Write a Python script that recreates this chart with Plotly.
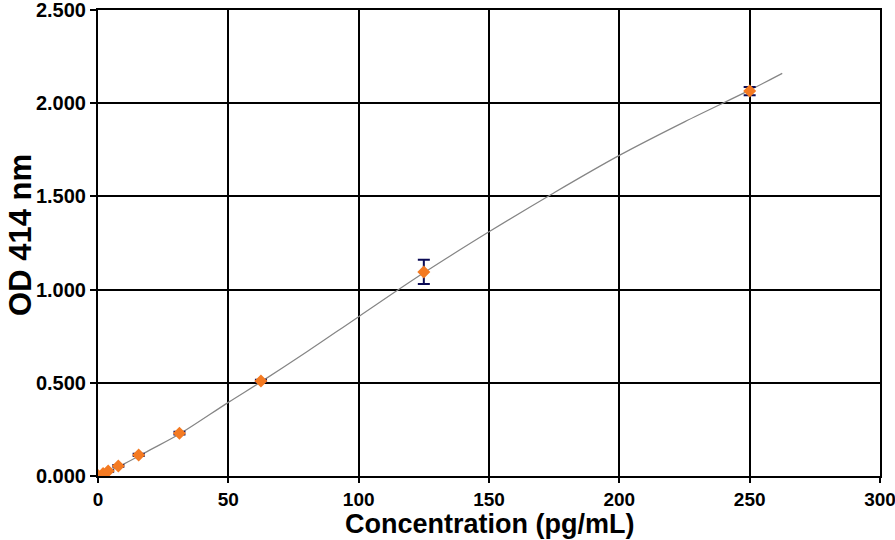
import plotly.graph_objects as go

# Standards (pg/mL) and mean OD 414 nm
conc = [0, 1.95, 3.9, 7.8, 15.6, 31.25, 62.5, 125, 250]
od = [0.003, 0.013, 0.027, 0.054, 0.113, 0.230, 0.510, 1.095, 2.065]
od_err = [0.002, 0.003, 0.004, 0.005, 0.006, 0.008, 0.006, 0.065, 0.022]

# Fitted curve
fit_x = [0, 10, 20, 31.25, 50, 62.5, 80, 100, 125, 150, 175, 200, 225, 250, 262.5]
fit_y = [0.0, 0.065, 0.14, 0.225, 0.395, 0.505, 0.665, 0.855, 1.09, 1.31, 1.52, 1.72, 1.90, 2.07, 2.16]

x_ticks = [0, 50, 100, 150, 200, 250, 300]
y_ticks = [0, 0.5, 1.0, 1.5, 2.0, 2.5]
y_tick_text = ["0.000", "0.500", "1.000", "1.500", "2.000", "2.500"]
x_title = "Concentration (pg/mL)"
y_title = "OD 414 nm"

fig = go.Figure()
fig.add_trace(go.Scatter(
    x=fit_x, y=fit_y, mode="lines",
    line=dict(color="#858585", width=1.2, shape="spline"),
    hoverinfo="skip", showlegend=False))
fig.add_trace(go.Scatter(
    x=conc, y=od, mode="markers",
    marker=dict(symbol="diamond", size=10, color="#F47A22"),
    error_y=dict(type="data", array=od_err, visible=True,
                 color="#0b0b55", thickness=2, width=6),
    showlegend=False))

font_family = "Liberation Sans, Arial, sans-serif"
fig.update_layout(
    width=895, height=540,
    margin=dict(l=98, r=15, t=10, b=64),
    paper_bgcolor="white", plot_bgcolor="white",
    font=dict(family=font_family, color="black"),
    xaxis=dict(
        range=[0, 300], tickvals=x_ticks, ticktext=["<b>%d</b>" % t for t in x_ticks],
        automargin=False, ticklabeloverflow="allow",
        showgrid=True, gridcolor="black", gridwidth=2,
        showline=True, linecolor="black", linewidth=2, mirror=True,
        ticks="outside", ticklen=5, tickwidth=2, tickcolor="black",
        tickfont=dict(size=19, family=font_family, color="black"),
        zeroline=False),
    yaxis=dict(
        range=[0, 2.5], tickvals=y_ticks, ticktext=["<b>%s</b>" % t for t in y_tick_text],
        automargin=False, ticklabeloverflow="allow",
        showgrid=True, gridcolor="black", gridwidth=2,
        showline=True, linecolor="black", linewidth=2, mirror=True,
        ticks="outside", ticklen=6, tickwidth=2, tickcolor="black",
        tickfont=dict(size=20, family=font_family, color="black"),
        zeroline=False),
    annotations=[
        dict(text="<b>%s</b>" % x_title, xref="paper", yref="paper",
             x=0.5, y=-0.102, xanchor="center", yanchor="middle",
             showarrow=False, font=dict(size=27, family=font_family, color="black")),
        dict(text="<b>%s</b>" % y_title, xref="paper", yref="paper",
             x=-0.1, y=0.517, xanchor="center", yanchor="middle", textangle=-90,
             showarrow=False, font=dict(size=31, family=font_family, color="black")),
    ],
)
fig.write_html("out.html", config={"displayModeBar": False},
               post_script="document.body.style.margin='0';")
